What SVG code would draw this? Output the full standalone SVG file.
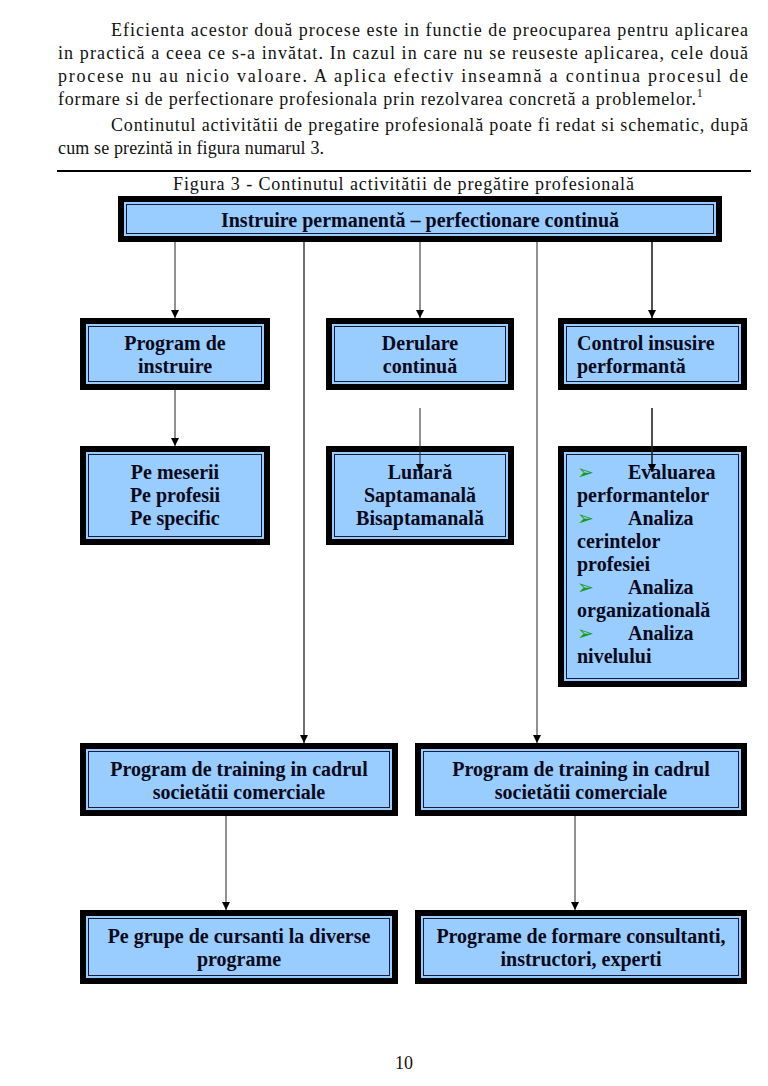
<svg xmlns="http://www.w3.org/2000/svg" width="768" height="1086" viewBox="0 0 768 1086">
<style>
.body{font-family:"Liberation Serif","Times New Roman",serif;font-size:18px;fill:#111}
.lbl{font-family:"Liberation Serif","Times New Roman",serif;font-size:20px;font-weight:bold;fill:#0a0a1a}
.c{text-anchor:middle}
.frame{fill:#000}
.fill{fill:#99ccff}
.line{fill:none;stroke:#1a1a3a;stroke-width:1}
.conn{fill:none;stroke:#222;stroke-width:1}
.bul{font-family:"DejaVu Sans",sans-serif;font-size:20px;font-weight:bold;fill:#1a9a1a}
</style>
<defs>
<marker id="ah" viewBox="0 0 10 10" refX="10" refY="5" markerWidth="8" markerHeight="8" markerUnits="userSpaceOnUse" orient="auto">
<path d="M0,0 L10,5 L0,10 z" fill="#000"/>
</marker>
</defs>
<rect width="768" height="1086" fill="#fff"/>

<g id="paragraph">
<text class="body" x="111" y="36" textLength="637" lengthAdjust="spacing">Eficienta acestor două procese este in functie de preocuparea pentru aplicarea</text>
<text class="body" x="58" y="59" textLength="690" lengthAdjust="spacing">in practică a ceea ce s-a invătat. In cazul in care nu se reuseste aplicarea, cele două</text>
<text class="body" x="58" y="82" textLength="690" lengthAdjust="spacing">procese nu au nicio valoare. A aplica efectiv inseamnă a continua procesul de</text>
<text class="body" x="58" y="105"><tspan textLength="638" lengthAdjust="spacing">formare si de perfectionare profesionala prin rezolvarea concretă a problemelor.</tspan><tspan font-size="12" dy="-8">1</tspan></text>
<text class="body" x="111" y="131" textLength="637" lengthAdjust="spacing">Continutul activitătii de pregatire profesională poate fi redat si schematic, după</text>
<text class="body" x="58" y="154" textLength="266" lengthAdjust="spacing">cum se prezintă in figura numarul 3.</text>
<rect x="57" y="170" width="694" height="2" fill="#000"/>
<text class="body" x="173" y="190" font-size="19" textLength="461" lengthAdjust="spacing">Figura 3 -  Continutul activitătii de pregătire profesională</text>
</g>

<g id="connectors">
<line class="conn" x1="175" y1="242" x2="175" y2="318" marker-end="url(#ah)"/>
<line class="conn" x1="304" y1="242" x2="304" y2="743" marker-end="url(#ah)" style="stroke-width:1.3"/>
<line class="conn" x1="420" y1="242" x2="420" y2="318" marker-end="url(#ah)"/>
<line class="conn" x1="537" y1="242" x2="537" y2="743" marker-end="url(#ah)"/>
<line class="conn" x1="652" y1="242" x2="652" y2="318" marker-end="url(#ah)" style="stroke-width:1.6"/>
<line class="conn" x1="175" y1="390" x2="175" y2="446" marker-end="url(#ah)"/>
<line class="conn" x1="226" y1="816" x2="226" y2="910" marker-end="url(#ah)"/>
<line class="conn" x1="575" y1="816" x2="575" y2="910" marker-end="url(#ah)"/>
</g>

<g id="n-top">
<rect class="frame" x="118" y="196" width="604" height="46"/>
<rect class="fill" x="124" y="202" width="592" height="34"/>
<rect class="line" x="126.5" y="204.5" width="587" height="29"/>
<text class="lbl c" x="420" y="227">Instruire permanentă – perfectionare continuă</text>
</g>

<g id="n-program">
<rect class="frame" x="80" y="318" width="190" height="72"/>
<rect class="fill" x="86" y="324" width="178" height="60"/>
<rect class="line" x="88.5" y="326.5" width="173" height="55"/>
<text class="lbl c" x="175" y="350">Program de</text>
<text class="lbl c" x="175" y="373">instruire</text>
</g>

<g id="n-derulare">
<rect class="frame" x="326" y="318" width="188" height="72"/>
<rect class="fill" x="332" y="324" width="176" height="60"/>
<rect class="line" x="334.5" y="326.5" width="171" height="55"/>
<text class="lbl c" x="420" y="350">Derulare</text>
<text class="lbl c" x="420" y="373">continuă</text>
</g>

<g id="n-control">
<rect class="frame" x="558" y="318" width="189" height="72"/>
<rect class="fill" x="564" y="324" width="177" height="60"/>
<rect class="line" x="566.5" y="326.5" width="172" height="55"/>
<text class="lbl" x="577" y="350">Control insusire</text>
<text class="lbl" x="577" y="373">performantă</text>
</g>

<g id="n-meserii">
<rect class="frame" x="80" y="446" width="190" height="99"/>
<rect class="fill" x="86" y="452" width="178" height="87"/>
<rect class="line" x="88.5" y="454.5" width="173" height="82"/>
<text class="lbl c" x="175" y="479">Pe meserii</text>
<text class="lbl c" x="175" y="502">Pe profesii</text>
<text class="lbl c" x="175" y="525">Pe specific</text>
</g>

<g id="n-lunara">
<rect class="frame" x="326" y="446" width="188" height="99"/>
<rect class="fill" x="332" y="452" width="176" height="87"/>
<rect class="line" x="334.5" y="454.5" width="171" height="82"/>
<text class="lbl c" x="420" y="479">Lunară</text>
<text class="lbl c" x="420" y="502">Saptamanală</text>
<text class="lbl c" x="420" y="525">Bisaptamanală</text>
</g>

<g id="n-evaluare">
<rect class="frame" x="558" y="446" width="189" height="241"/>
<rect class="fill" x="564" y="452" width="177" height="229"/>
<rect class="line" x="566.5" y="454.5" width="172" height="224"/>
<text class="bul" x="577" y="479">➢</text>
<text class="lbl" x="628" y="479">Evaluarea</text>
<text class="lbl" x="577" y="502">performantelor</text>
<text class="bul" x="577" y="525">➢</text>
<text class="lbl" x="628" y="525">Analiza</text>
<text class="lbl" x="577" y="548">cerintelor</text>
<text class="lbl" x="577" y="571">profesiei</text>
<text class="bul" x="577" y="594">➢</text>
<text class="lbl" x="628" y="594">Analiza</text>
<text class="lbl" x="577" y="617">organizatională</text>
<text class="bul" x="577" y="640">➢</text>
<text class="lbl" x="628" y="640">Analiza</text>
<text class="lbl" x="577" y="663">nivelului</text>
</g>

<g id="connectors-over">
<line class="conn" x1="420" y1="408" x2="420" y2="472" marker-end="url(#ah)"/>
<line class="conn" x1="652" y1="408" x2="652" y2="472" marker-end="url(#ah)" style="stroke-width:1.6"/>
</g>

<g id="n-training1">
<rect class="frame" x="80" y="743" width="318" height="73"/>
<rect class="fill" x="86" y="749" width="306" height="61"/>
<rect class="line" x="88.5" y="751.5" width="301" height="56"/>
<text class="lbl c" x="239" y="776">Program de training in cadrul</text>
<text class="lbl c" x="239" y="799">societătii comerciale</text>
</g>

<g id="n-training2">
<rect class="frame" x="415" y="743" width="332" height="73"/>
<rect class="fill" x="421" y="749" width="320" height="61"/>
<rect class="line" x="423.5" y="751.5" width="315" height="56"/>
<text class="lbl c" x="581" y="776">Program de training in cadrul</text>
<text class="lbl c" x="581" y="799">societătii comerciale</text>
</g>

<g id="n-grupe">
<rect class="frame" x="80" y="910" width="318" height="74"/>
<rect class="fill" x="86" y="916" width="306" height="62"/>
<rect class="line" x="88.5" y="918.5" width="301" height="57"/>
<text class="lbl c" x="239" y="943">Pe grupe de cursanti la diverse</text>
<text class="lbl c" x="239" y="966">programe</text>
</g>

<g id="n-formare">
<rect class="frame" x="415" y="910" width="332" height="74"/>
<rect class="fill" x="421" y="916" width="320" height="62"/>
<rect class="line" x="423.5" y="918.5" width="315" height="57"/>
<text class="lbl c" x="581" y="943">Programe de formare consultanti,</text>
<text class="lbl c" x="581" y="966">instructori, experti</text>
</g>

<text class="body c" x="404" y="1069">10</text>
</svg>
